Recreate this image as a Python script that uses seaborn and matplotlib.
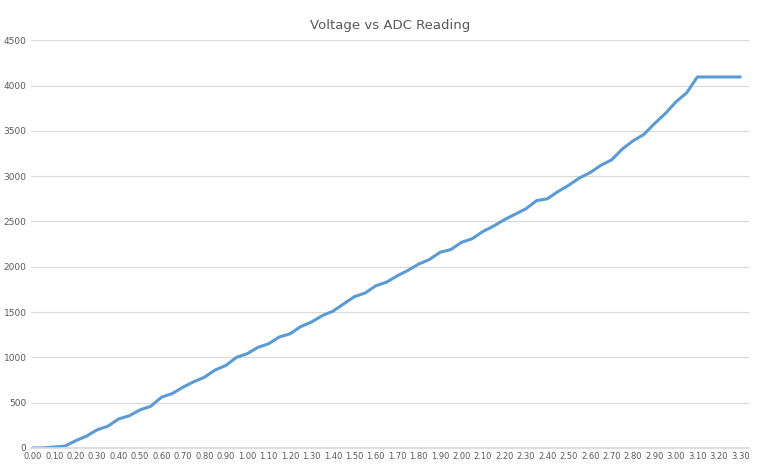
import matplotlib
matplotlib.use("Agg")
import matplotlib.pyplot as plt
import seaborn as sns
import pandas as pd

voltage_labels = [f"{i*0.05:.2f}" for i in range(67)]
adc = [0, 0, 10, 20, 80, 130, 200, 240, 320, 355, 420, 460, 560, 600, 670, 730,
       780, 860, 910, 1000, 1040, 1110, 1150, 1225, 1260, 1340, 1390, 1460, 1510,
       1590, 1670, 1710, 1790, 1830, 1900, 1960, 2030, 2080, 2160, 2190, 2270,
       2310, 2390, 2450, 2520, 2580, 2640, 2730, 2750, 2830, 2900, 2980, 3040,
       3120, 3180, 3300, 3390, 3460, 3580, 3690, 3820, 3920, 4095, 4095, 4095,
       4095, 4095]
y_ticks = list(range(0, 5000, 500))

df = pd.DataFrame({"idx": range(len(adc)), "adc": adc})

sns.set_theme(style="white")
fig, ax = plt.subplots(figsize=(7.68, 4.74), dpi=100)
fig.subplots_adjust(left=0.04, right=0.975, top=0.915, bottom=0.055)
sns.lineplot(data=df, x="idx", y="adc", ax=ax, color="#5b9bd5", linewidth=2.2)
ax.set_xlim(-0.2, len(adc) - 0.2)
ax.set_ylim(0, 4500)
ax.set_yticks(y_ticks)
ax.set_yticklabels([str(v) for v in y_ticks], fontsize=6.5, color="#595959")
ax.set_xticks(range(0, len(adc), 2))
ax.set_xticklabels(voltage_labels[::2], fontsize=6, color="#595959")
ax.tick_params(length=0, pad=3)
ax.grid(axis="y", color="#d9d9d9", linewidth=0.8)
for s in ["top", "right", "left"]:
    ax.spines[s].set_visible(False)
ax.spines["bottom"].set_color("#d9d9d9")
ax.set_xlabel("")
ax.set_ylabel("")
ax.set_title("Voltage vs ADC Reading", fontsize=9.5, color="#595959", pad=8)
fig.savefig("out.png", dpi=100)
